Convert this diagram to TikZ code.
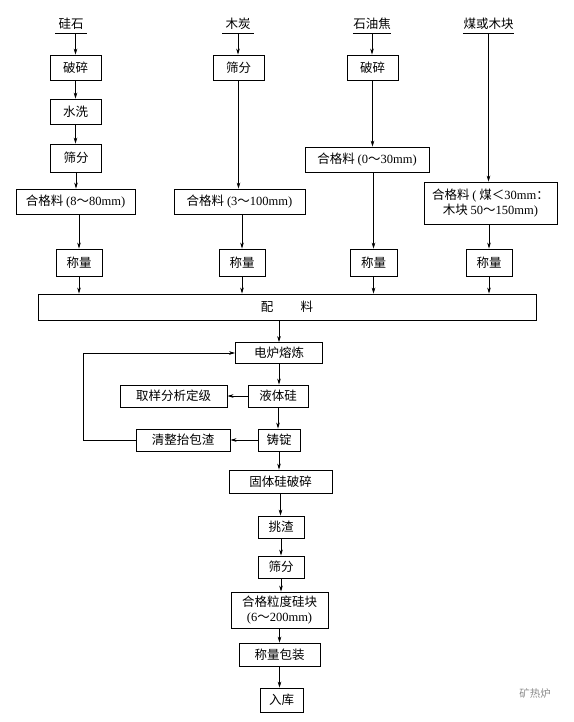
\documentclass[tikz,border=0pt]{standalone}
\usepackage{fontspec}
\setmainfont{Liberation Serif}
\newfontfamily\cjk{Noto Sans CJK SC}
\newcommand{\fwt}{{\cjk ～}}
\usetikzlibrary{arrows.meta}
\begin{document}
\begin{tikzpicture}[x=1pt,y=-1pt,
  every node/.style={font=\cjk\fontsize{12.5}{14.5}\selectfont, inner sep=0pt},
  box/.style={draw, line width=0.9pt, align=center},
  src/.style={minimum height=18pt, minimum width=31pt},
  link/.style={line width=0.6pt, -{Stealth[length=6pt,width=3.6pt]}},
  line/.style={line width=0.6pt}
]
\useasboundingbox (0,0) rectangle (573,722);

% sources
\node[src] (s1) at (71,24) {硅石};
\node[src] (s2) at (238,24) {木炭};
\node[src, minimum width=38pt] (s3) at (372,24) {石油焦};
\node[src, minimum width=51pt] (s4) at (488.5,24) {煤或木块};
\foreach \n in {s1,s2,s3,s4} \draw[line] (\n.south west) -- (\n.south east);

% column 1
\node[box, minimum width=51pt, minimum height=25pt] (a1) at (75.5,67.5) {破碎};
\node[box, minimum width=51pt, minimum height=25pt] (a2) at (75.5,111.5) {水洗};
\node[box, minimum width=51pt, minimum height=28pt] (a3) at (76,158) {筛分};
\node[box, minimum width=119pt, minimum height=25pt] (a4) at (75.5,201.5) {合格料 {\rmfamily(8\fwt80mm)}};
\node[box, minimum width=46pt, minimum height=27pt] (a5) at (79,262.5) {称量};

% column 2
\node[box, minimum width=51pt, minimum height=25pt] (b1) at (238.5,67.5) {筛分};
\node[box, minimum width=131pt, minimum height=25pt] (b2) at (239.5,201.5) {合格料 {\rmfamily(3\fwt100mm)}};
\node[box, minimum width=46pt, minimum height=27pt] (b3) at (242,262.5) {称量};

% column 3
\node[box, minimum width=51pt, minimum height=25pt] (c1) at (372.5,67.5) {破碎};
\node[box, minimum width=124pt, minimum height=25pt] (c2) at (367,159.5) {合格料 {\rmfamily(0\fwt30mm)}};
\node[box, minimum width=47pt, minimum height=27pt] (c3) at (373.5,262.5) {称量};

% column 4
\node[box, minimum width=133pt, minimum height=42pt, align=center] (d1) at (490.5,203) {合格料 {\rmfamily(} 煤＜{\rmfamily 30mm}：\\木块 {\rmfamily 50\fwt150mm)}};
\node[box, minimum width=46pt, minimum height=27pt] (d2) at (489,262.5) {称量};

% mixing
\node[box, minimum width=498pt, minimum height=26pt] (mix) at (287,307) {配\hspace{2.2em}料};

% main line
\node[box, minimum width=87pt, minimum height=21pt] (m1) at (279,353) {电炉熔炼};
\node[box, minimum width=60pt, minimum height=22pt] (m2) at (278,396) {液体硅};
\node[box, minimum width=107pt, minimum height=22pt] (m2s) at (173.5,396) {取样分析定级};
\node[box, minimum width=42pt, minimum height=22pt] (m3) at (279,440) {铸锭};
\node[box, minimum width=94pt, minimum height=22pt] (m3s) at (183,440) {清整抬包渣};
\node[box, minimum width=103pt, minimum height=23pt] (m4) at (280.5,481.5) {固体硅破碎};
\node[box, minimum width=46pt, minimum height=22pt] (m5) at (281,527) {挑渣};
\node[box, minimum width=46pt, minimum height=22pt] (m6) at (281,567) {筛分};
\node[box, minimum width=97pt, minimum height=36pt, align=center] (m7) at (279.5,610) {合格粒度硅块\\{\rmfamily(6\fwt200mm)}};
\node[box, minimum width=81pt, minimum height=23pt] (m8) at (279.5,654.5) {称量包装};
\node[box, minimum width=43pt, minimum height=24pt] (m9) at (281.5,700) {入库};

\coordinate (fbl) at (83,440);
\coordinate (fbt) at (83,353);

% watermark
\node[text=black!45, font=\cjk\fontsize{10.5}{12}\selectfont] (wm) at (535,693) {矿热炉};

% connectors column 1
\draw[link] (s1.south -| a1.north) -- (a1.north);
\draw[link] (a1.south) -- (a2.north);
\draw[link] (a2.south) -- (a2.south |- a3.north);
\draw[link] (a3.south) -- (a3.south |- a4.north);
\draw[link] (a5.north |- a4.south) -- (a5.north);
\draw[link] (a5.south) -- (a5.south |- mix.north);
% column 2
\draw[link] (s2.south) -- (s2.south |- b1.north);
\draw[link] (b1.south) -- (b1.south |- b2.north);
\draw[link] (b3.north |- b2.south) -- (b3.north);
\draw[link] (b3.south) -- (b3.south |- mix.north);
% column 3
\draw[link] (s3.south) -- (s3.south |- c1.north);
\draw[link] (c1.south) -- (c1.south |- c2.north);
\draw[link] (c3.north |- c2.south) -- (c3.north);
\draw[link] (c3.south) -- (c3.south |- mix.north);
% column 4
\draw[link] (s4.south) -- (s4.south |- d1.north);
\draw[link] (d2.north |- d1.south) -- (d2.north);
\draw[link] (d2.south) -- (d2.south |- mix.north);
% main
\draw[link] (m1.north |- mix.south) -- (m1.north);
\draw[link] (m1.south) -- (m1.south |- m2.north);
\draw[link] (m2.west) -- (m2s.east);
\draw[link] (m2.south) -- (m2.south |- m3.north);
\draw[link] (m3.west) -- (m3s.east);
\draw[link] (m3s.west) -- (fbl) -- (fbt) -- (m1.west);
\draw[link] (m3.south) -- (m3.south |- m4.north);
\draw[link] (m4.south) -- (m4.south |- m5.north);
\draw[link] (m5.south) -- (m5.south |- m6.north);
\draw[link] (m6.south) -- (m6.south |- m7.north);
\draw[link] (m7.south) -- (m7.south |- m8.north);
\draw[link] (m8.south) -- (m8.south |- m9.north);
\end{tikzpicture}
\end{document}
